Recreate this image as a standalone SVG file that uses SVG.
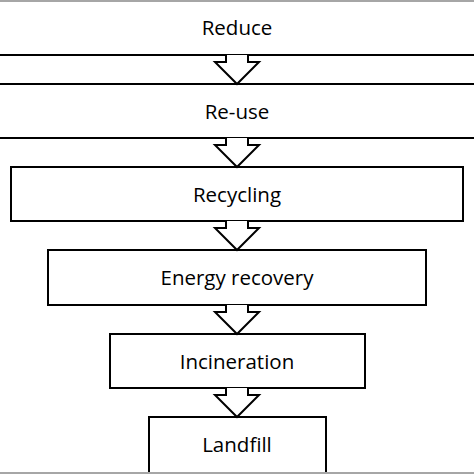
<svg xmlns="http://www.w3.org/2000/svg" width="474" height="474" viewBox="0 0 474 474">
<style>
.box{fill:#fff;stroke:#000;stroke-width:2}
.arr{fill:#fff;stroke:#000;stroke-width:2;stroke-linejoin:miter}
.lbl{font-family:"Open Sans","Noto Sans",sans-serif;font-size:20.5px;fill:#000;text-anchor:middle;dominant-baseline:central}
</style>
<rect x="0" y="0" width="474" height="474" fill="#fff"/>
<g id="reduce"><rect class="box" x="-5" y="-5" width="484" height="60"/><text class="lbl" x="237" y="27">Reduce</text></g>
<g id="reuse"><rect class="box" x="-5" y="84" width="484" height="54"/><text class="lbl" x="237" y="111">Re-use</text></g>
<g id="recycling"><rect class="box" x="11" y="167" width="452" height="54"/><text class="lbl" x="237" y="194">Recycling</text></g>
<g id="energy"><rect class="box" x="48" y="250" width="378" height="55"/><text class="lbl" x="237" y="277">Energy recovery</text></g>
<g id="incineration"><rect class="box" x="110" y="334" width="255" height="54"/><text class="lbl" x="237" y="361">Incineration</text></g>
<g id="landfill"><rect class="box" x="149" y="417" width="177" height="65"/><text class="lbl" x="237" y="444">Landfill</text></g>
<g id="connectors">
<path class="arr" d="M226,55 V62 H215 L237,84 L259,62 H248 V55"/>
<path class="arr" d="M226,138 V145 H215 L237,167 L259,145 H248 V138"/>
<path class="arr" d="M226,221 V228 H215 L237,250 L259,228 H248 V221"/>
<path class="arr" d="M226,305 V312 H215 L237,334 L259,312 H248 V305"/>
<path class="arr" d="M226,388 V395 H215 L237,417 L259,395 H248 V388"/>
</g>
<rect x="0" y="0" width="474" height="2" fill="#a6a6a6"/>
<rect x="0" y="472" width="474" height="2" fill="#a6a6a6"/>
</svg>
